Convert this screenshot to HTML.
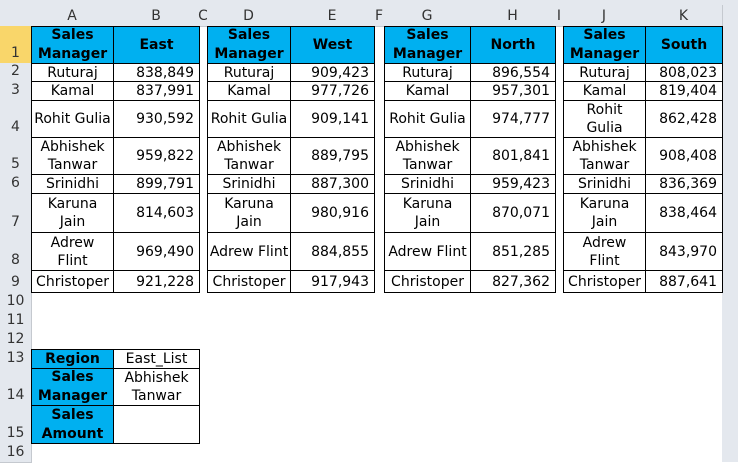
<!DOCTYPE html><html><head><meta charset="utf-8"><style>
body{margin:0;width:738px;height:462px;overflow:hidden;background:#fff;font-family:"DejaVu Sans",sans-serif;position:relative}
.c{position:absolute;box-sizing:border-box;display:flex;align-items:center;justify-content:center;text-align:center;font-size:14px;line-height:18px;color:#000}
.h{background:#e4e8ee;color:#333;font-size:14px;border-right:1px solid #c5c9cf;border-bottom:1px solid #c5c9cf}
.rn{align-items:flex-end;padding-bottom:1px}
.y{background:#f9d66a}
.b{border:1px solid #000}
.hd{background:#00b0f0;font-weight:bold;font-size:14px;line-height:19px}
.r{justify-content:flex-end;padding-right:5px}
</style></head><body><div id="g"></div>
<script>
var X=[0,31,113,199,207,290,374,384,470,555,563,645,722];
var Y=[5,26,63,81,100,137,174,193,232,270,292,311,330,349,368,405,443,462];
var L="ABCDEFGHIJK";var h='';
function c(x1,x2,y1,y2,cls,t){h+='<div class="c '+cls+'" style="left:'+x1+'px;top:'+y1+'px;width:'+(x2-x1+1)+'px;height:'+(y2-y1+1)+'px">'+t+'</div>';}
h+='<div class="c" style="left:0;top:0;width:738px;height:5px;background:#e4e8ee"></div>';
h+='<div class="c" style="left:722px;top:5px;width:16px;height:457px;background:#e4e8ee"></div>';
c(0,31,5,26,'h','');
for(var i=0;i<11;i++)c(X[i+1],X[i+2],5,26,'h',L[i]);
for(var r=1;r<=16;r++)c(0,31,Y[r],Y[r+1],'h rn'+(r==1?' y':''),r);
var names=['Ruturaj','Kamal','Rohit Gulia','Abhishek<br>Tanwar','Srinidhi','Karuna<br>Jain','Adrew<br>Flint','Christoper'];
var names2=['Ruturaj','Kamal','Rohit Gulia','Abhishek<br>Tanwar','Srinidhi','Karuna<br>Jain','Adrew Flint','Christoper'];
var names4=['Ruturaj','Kamal','Rohit<br>Gulia','Abhishek<br>Tanwar','Srinidhi','Karuna<br>Jain','Adrew<br>Flint','Christoper'];
var T=[['East',names,['838,849','837,991','930,592','959,822','899,791','814,603','969,490','921,228']],
['West',names2,['909,423','977,726','909,141','889,795','887,300','980,916','884,855','917,943']],
['North',names2,['896,554','957,301','974,777','801,841','959,423','870,071','851,285','827,362']],
['South',names4,['808,023','819,404','862,428','908,408','836,369','838,464','843,970','887,641']]];
var cs=[1,4,7,10];
for(var t=0;t<4;t++){var a=X[cs[t]],b=X[cs[t]+1],e=X[cs[t]+2];
c(a,b,Y[1],Y[2],'b hd','Sales<br>Manager');c(b,e,Y[1],Y[2],'b hd',T[t][0]);
for(var k=0;k<8;k++){c(a,b,Y[k+2],Y[k+3],'b',T[t][1][k]);c(b,e,Y[k+2],Y[k+3],'b r',T[t][2][k]);}}
c(31,113,Y[13],Y[14],'b hd','Region');c(113,199,Y[13],Y[14],'b','East_List');
c(31,113,Y[14],Y[15],'b hd','Sales<br>Manager');c(113,199,Y[14],Y[15],'b','Abhishek<br>Tanwar');
c(31,113,Y[15],Y[16],'b hd','Sales<br>Amount');c(113,199,Y[15],Y[16],'b','');
document.getElementById('g').innerHTML=h;
</script>
</body></html>
